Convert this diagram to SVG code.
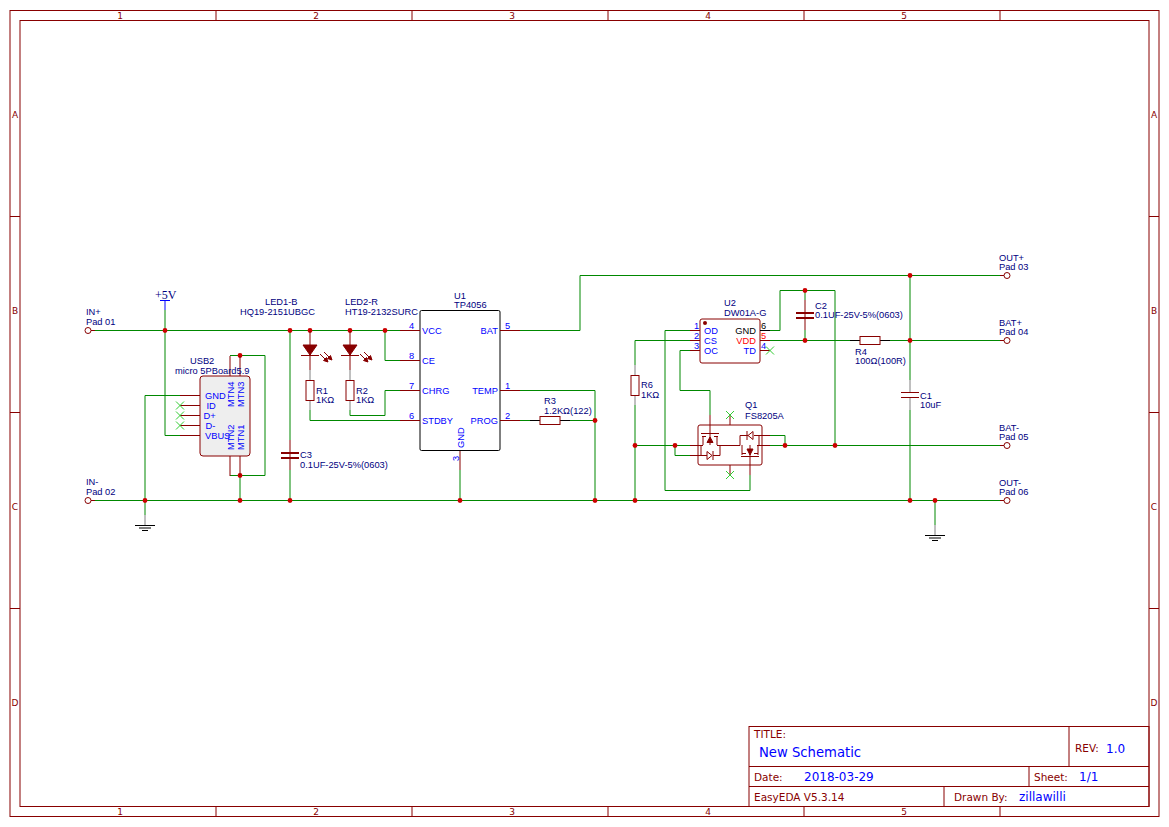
<svg xmlns="http://www.w3.org/2000/svg" xmlns:xlink="http://www.w3.org/1999/xlink" width="1169" height="827" viewBox="0 0 1169 827">
<style>
.bg{fill:#fff}
path,rect,circle,line{fill:none}
.f{stroke:#880000;stroke-width:1}
.w{stroke:#008800;stroke-width:1}
.p{stroke:#880000;stroke-width:1}
.k{stroke:#000;stroke-width:1}
.g{stroke:#808080;stroke-width:1}
.b{stroke:#0000ff;stroke-width:1}
.x{stroke:#33cc33;stroke-width:1}
.cap{stroke:#880000;stroke-width:2}
.tri{fill:#880000;stroke:#880000}
text{font-family:"Liberation Sans",Arial,sans-serif;font-size:9.300px;fill:#000080}
.n{fill:#0000ff}
.e{text-anchor:end}
.t{font-family:"DejaVu Sans",sans-serif}
.fl{font-size:9px;fill:#880000;text-anchor:middle}
.tl{font-size:10.500px;fill:#880000}
.tv{font-size:12px;fill:#0000ff}
</style>
<defs>
<g id="xm"><path class="x" d="M-4-4L4 4M-4 4L4-4"/></g>
<g id="jn"><circle r="2.400" style="fill:#cc0000"/></g>
<g id="gnd"><path class="k" d="M-10 .5H10M-6 3H6M-3 5.500H3"/></g>
<g id="ledmark">
<path class="tri" d="M-7 0H7L0 10Z" style="fill:#880000"/>
<path class="p" d="M-9 10.500H9"/>
<path class="p" d="M10 9L16 15M14 7L20 13"/>
<path class="tri" d="M18 17L13.500 15.500L16.500 12.500Z" style="fill:#880000"/>
<path class="tri" d="M22 15L17.500 13.500L20.500 10.500Z" style="fill:#880000"/>
</g>
</defs>
<rect class="bg" style="fill:#fff" width="1169" height="827"/>
<g id="frame">
<rect class="f" x="10" y="10.500" width="1149" height="806"/>
<rect class="f" x="20" y="20.500" width="1129" height="786"/>
<path class="f" d="M216 10V20M412 10V20M608 10V20M804 10V20M1000 10V20M216 806V816M412 806V816M608 806V816M804 806V816M1000 806V816M10 216.500H20M10 412.500H20M10 608.500H20M1149 216.500H1159M1149 412.500H1159M1149 608.500H1159"/>
<g class="t">
<text class="t fl" x="120" y="19">1</text><text class="t fl" x="316" y="19">2</text><text class="t fl" x="512" y="19">3</text><text class="t fl" x="708" y="19">4</text><text class="t fl" x="904" y="19">5</text>
<text class="t fl" x="120" y="815">1</text><text class="t fl" x="316" y="815">2</text><text class="t fl" x="512" y="815">3</text><text class="t fl" x="708" y="815">4</text><text class="t fl" x="904" y="815">5</text>
<text class="t fl" x="15" y="118">A</text><text class="t fl" x="15" y="314">B</text><text class="t fl" x="15" y="510">C</text><text class="t fl" x="15" y="706">D</text>
<text class="t fl" x="1154" y="118">A</text><text class="t fl" x="1154" y="314">B</text><text class="t fl" x="1154" y="510">C</text><text class="t fl" x="1154" y="706">D</text>
</g>
</g>
<g id="title-block">
<rect class="f" x="749" y="726.500" width="400" height="80"/>
<path class="f" d="M749 766.500H1149M749 786.500H1149M1069 726V766M1029 766V786M944 786V806"/>
<text class="t tl" x="754" y="738">TITLE:</text>
<text class="t tv" style="font-size:13.200px" x="759" y="757">New Schematic</text>
<text class="t tl" x="1075" y="752">REV:</text>
<text class="t tv" x="1106" y="753">1.0</text>
<text class="t tl" x="754" y="781">Date:</text>
<text class="t tv" x="804" y="781">2018-03-29</text>
<text class="t tl" x="1034" y="781">Sheet:</text>
<text class="t tv" x="1079" y="781">1/1</text>
<text class="t tl" x="754" y="801">EasyEDA V5.3.14</text>
<text class="t tl" x="954" y="801">Drawn By:</text>
<text class="t tv" x="1019" y="801">zillawilli</text>
</g>
<g id="connectors">
<path class="w" d="M95 330.500H400"/>
<path class="w" d="M95 500.500H1000"/>
<path class="w" d="M165 310V435.500H180"/>
<path class="w" d="M180 395.500H145V515"/>
<path class="w" d="M230 355.500H265V475.500H230"/>
<path class="w" d="M240 476V500"/>
<path class="w" d="M290 330V440M290 470V500"/>
<path class="w" d="M310 410V420.500H400"/>
<path class="w" d="M350 410V415.500H385V390.500H400"/>
<path class="w" d="M385 330V360.500H400"/>
<path class="w" d="M460 470V500"/>
<path class="w" d="M520 330.500H580V275.500H1000"/>
<path class="w" d="M520 390.500H595V500"/>
<path class="w" d="M520 420.500H530M570 420.500H595"/>
<path class="w" d="M635 365V340.500H690"/>
<path class="w" d="M635 405V500"/>
<path class="w" d="M690 330.500H665V490.500H750V475"/>
<path class="w" d="M690 350.500H680V390.500H710V415"/>
<path class="w" d="M770 330.500H780V290.500H835V445"/>
<path class="w" d="M805 290V300M805 330V340"/>
<path class="w" d="M770 340.500H850M890 340.500H1000"/>
<path class="w" d="M910 275V380M910 410V500"/>
<path class="w" d="M935 500V525"/>
<path class="w" d="M635 445.500H690"/>
<path class="w" d="M675 445V455.500H690"/>
<path class="w" d="M770 445.500H1000"/>
<path class="w" d="M770 435.500H785V445"/>
<use xlink:href="#jn" x="165" y="330.500"/><use xlink:href="#jn" x="145" y="500.500"/><use xlink:href="#jn" x="240" y="355.500"/><use xlink:href="#jn" x="240" y="475.500"/><use xlink:href="#jn" x="240" y="500.500"/><use xlink:href="#jn" x="290" y="330.500"/><use xlink:href="#jn" x="290" y="500.500"/><use xlink:href="#jn" x="310" y="330.500"/><use xlink:href="#jn" x="350" y="330.500"/><use xlink:href="#jn" x="385" y="330.500"/><use xlink:href="#jn" x="460" y="500.500"/><use xlink:href="#jn" x="595" y="420.500"/><use xlink:href="#jn" x="595" y="500.500"/><use xlink:href="#jn" x="635" y="500.500"/><use xlink:href="#jn" x="635" y="445.500"/><use xlink:href="#jn" x="675" y="445.500"/><use xlink:href="#jn" x="785" y="445.500"/><use xlink:href="#jn" x="835" y="445.500"/><use xlink:href="#jn" x="805" y="290.500"/><use xlink:href="#jn" x="805" y="340.500"/><use xlink:href="#jn" x="910" y="275.500"/><use xlink:href="#jn" x="910" y="340.500"/><use xlink:href="#jn" x="910" y="500.500"/><use xlink:href="#jn" x="935" y="500.500"/>
</g>
<g id="pad01"><path class="p" d="M91 330.500H95"/><circle class="p" cx="88" cy="330.500" r="3"/><text x="86" y="315">IN+</text><text x="86" y="324.500">Pad 01</text></g>
<g id="pad02"><path class="p" d="M91 500.500H95"/><circle class="p" cx="88" cy="500.500" r="3"/><text x="86" y="485">IN-</text><text x="86" y="494.500">Pad 02</text></g>
<g id="pad03"><path class="p" d="M1000 275.500H1004"/><circle class="p" cx="1007" cy="275.500" r="3"/><text x="999" y="260.500">OUT+</text><text x="999" y="270">Pad 03</text></g>
<g id="pad04"><path class="p" d="M1000 340.500H1004"/><circle class="p" cx="1007" cy="340.500" r="3"/><text x="999" y="325.500">BAT+</text><text x="999" y="335">Pad 04</text></g>
<g id="pad05"><path class="p" d="M1000 445.500H1004"/><circle class="p" cx="1007" cy="445.500" r="3"/><text x="999" y="430.500">BAT-</text><text x="999" y="440">Pad 05</text></g>
<g id="pad06"><path class="p" d="M1000 500.500H1004"/><circle class="p" cx="1007" cy="500.500" r="3"/><text x="999" y="485.500">OUT-</text><text x="999" y="495">Pad 06</text></g>
<g id="vcc5"><path class="b" d="M165 300V310M160 300.500H170"/><text x="155" y="299" style="font-family:'Liberation Serif',serif;font-size:12px">+5V</text></g>
<g id="gnd1"><path class="g" d="M145 515V525"/><use xlink:href="#gnd" x="145" y="525"/></g>
<g id="gnd2"><path class="g" d="M935 525V535"/><use xlink:href="#gnd" x="935" y="535"/></g>
<g id="usb2">
<rect x="200" y="376" width="50" height="80" rx="3" style="fill:#eeeeee;stroke:#880000"/>
<path class="p" d="M180 395.500H200M180 405.500H200M180 415.500H200M180 425.500H200M180 435.500H200M230 356V376M240 356V376M230 456V476M240 456V476"/>
<use xlink:href="#xm" x="180" y="405.500"/><use xlink:href="#xm" x="180" y="415.500"/><use xlink:href="#xm" x="180" y="425.500"/>
<text x="190" y="364">USB2</text><text x="175" y="374">micro 5PBoard5.9</text>
<text class="n" x="205" y="399">GND</text><text class="n" x="206.500" y="409">ID</text><text class="n" x="203.500" y="419">D+</text><text class="n" x="205.500" y="429">D-</text><text class="n" x="205" y="439">VBUS</text>
<text class="n" transform="translate(233.500 407) rotate(-90)">MTN4</text><text class="n" transform="translate(243.500 407) rotate(-90)">MTN3</text><text class="n" transform="translate(233.500 450) rotate(-90)">MTN2</text><text class="n" transform="translate(243.500 450) rotate(-90)">MTN1</text>
</g>
<g id="c3"><path class="p" d="M290 440V470"/><path class="cap" d="M281 453H299M281 458H299"/><text x="300" y="458">C3</text><text x="300" y="468">0.1UF-25V-5%(0603)</text></g>
<g id="led1"><path class="p" d="M310 331V370"/><use xlink:href="#ledmark" x="310" y="345"/><text x="265" y="305">LED1-B</text><text x="240" y="315">HQ19-2151UBGC</text></g>
<g id="led2"><path class="p" d="M350 331V370"/><use xlink:href="#ledmark" x="350" y="345"/><text x="345" y="305">LED2-R</text><text x="345" y="315">HT19-2132SURC</text></g>
<g id="r1"><path class="g" d="M310 370V380M310 400V410"/><rect class="p" x="306" y="380.500" width="8" height="20"/><text x="316" y="394">R1</text><text x="316" y="403">1KΩ</text></g>
<g id="r2"><path class="g" d="M350 370V380M350 400V410"/><rect class="p" x="346" y="380.500" width="8" height="20"/><text x="356" y="394">R2</text><text x="356" y="403">1KΩ</text></g>
<g id="u1">
<rect class="k" x="420" y="310.500" width="80" height="140" rx="1.500"/>
<path class="p" d="M400 330.500H420M400 360.500H420M400 390.500H420M400 420.500H420M500 330.500H520M500 390.500H520M500 420.500H520M460 451V470"/>
<text x="454" y="299">U1</text><text x="454" y="308">TP4056</text>
<text class="n" x="422" y="334">VCC</text><text class="n" x="422" y="364">CE</text><text class="n" x="422" y="394">CHRG</text><text class="n" x="422" y="424">STDBY</text>
<text class="n e" x="498" y="334">BAT</text><text class="n e" x="498" y="394">TEMP</text><text class="n e" x="498" y="424">PROG</text>
<text class="n" x="409" y="329">4</text><text class="n" x="409" y="359">8</text><text class="n" x="409" y="389">7</text><text class="n" x="409" y="419">6</text>
<text class="n" x="505" y="329">5</text><text class="n" x="505" y="389">1</text><text class="n" x="505" y="419">2</text>
<text class="n" transform="translate(463.500 448) rotate(-90)">GND</text><text class="n" transform="translate(459 461) rotate(-90)">3</text>
</g>
<g id="r3"><path class="k" d="M530 420.500H540M560 420.500H570"/><rect class="p" x="540" y="416.500" width="20" height="8"/><text x="544" y="404">R3</text><text x="544" y="414">1.2KΩ(122)</text></g>
<g id="r6"><path class="g" d="M635 365V375M635 395V405"/><rect class="p" x="631" y="375.500" width="8" height="20"/><text x="641" y="388">R6</text><text x="641" y="398">1KΩ</text></g>
<g id="u2">
<rect class="p" x="700" y="319" width="60" height="44" rx="2"/>
<circle cx="705" cy="323" r="2" style="fill:#880000"/>
<path class="p" d="M690 330.500H700M690 340.500H700M690 350.500H700M760 350.500H770"/>
<path class="k" d="M760 330.500H770"/><path class="p" d="M760 340.500H770"/>
<use xlink:href="#xm" x="770" y="350.500"/>
<text x="724" y="306">U2</text><text x="724" y="316">DW01A-G</text>
<text class="n" x="704" y="334">OD</text><text class="n" x="704" y="344">CS</text><text class="n" x="704" y="354">OC</text>
<text class="e" style="fill:#000" x="756" y="334">GND</text><text class="e" style="fill:#ff0000" x="756" y="344">VDD</text><text class="n e" x="756" y="354">TD</text>
<text class="n" x="694" y="329">1</text><text class="n" x="694" y="339">2</text><text class="n" x="694" y="349">3</text>
<text style="fill:#000" x="761" y="329">6</text><text style="fill:#ff0000" x="761" y="339">5</text><text class="n" x="761" y="349">4</text>
</g>
<g id="c2"><path class="p" d="M805 300V330"/><path class="cap" d="M796 313H814M796 318H814"/><text x="815" y="309">C2</text><text x="815" y="318">0.1UF-25V-5%(0603)</text></g>
<g id="r4"><path class="k" d="M850 340.500H860M880 340.500H890"/><rect class="p" x="860" y="336.500" width="20" height="8"/><text x="855" y="355">R4</text><text x="855" y="364">100Ω(100R)</text></g>
<g id="c1"><path class="g" d="M910 380V393M910 398V410"/><path class="p" d="M901 392.500H919M901 397.500H919"/><text x="920" y="399">C1</text><text x="920" y="408">10uF</text></g>
<g id="q1">
<rect class="p" x="698" y="425" width="64" height="40" rx="2"/>
<path class="p" d="M730 415V425M730 465V475"/>
<use xlink:href="#xm" x="730" y="415"/><use xlink:href="#xm" x="730" y="475"/>
<path class="p" d="M710 415V445M701 433.500H719M702 436.500H706M714 436.500H718M703 436V445M717 436V445M690 445.500H703M717 445.500H740M690 455.500H707M713 455.500H720V445M701 445V455"/>
<path class="p" d="M707 451.500L712 455.500L707 459.500ZM713 451V460"/>
<path class="tri" style="fill:#880000" d="M707 442.500H713L710 437Z"/>
<path class="p" d="M750 445V475M741 456.500H759M742 453.500H746M754 453.500H758M742 445V455M758 445V455M757 445.500H770M740 445.500V435.500H748M754 435.500H770M759 435V445"/>
<path class="p" d="M753 431.500L748 435.500L753 439.500ZM747 431V440"/>
<path class="tri" style="fill:#880000" d="M747 449H753L750 455Z"/>
<text x="745" y="408">Q1</text><text x="745" y="419">FS8205A</text>
</g>
</svg>
